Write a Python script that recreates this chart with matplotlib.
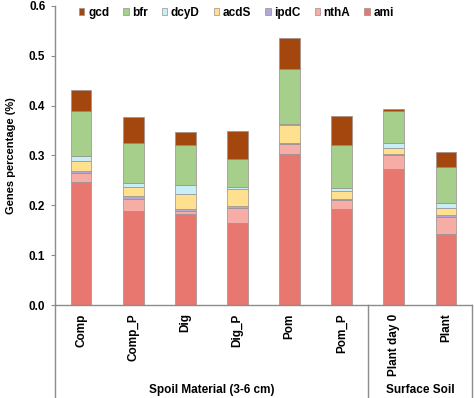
import matplotlib
matplotlib.use("Agg")
import matplotlib.pyplot as plt
import numpy as np

plt.rcParams["font.family"] = ["Liberation Sans", "DejaVu Sans"]

# samples and stacked gene fractions (bottom to top)
samples = ["Comp", "Comp_P", "Dig", "Dig_P", "Pom", "Pom_P", "Plant day 0", "Plant"]
ami  = [0.247, 0.188, 0.183, 0.165, 0.303, 0.192, 0.273, 0.142]
nthA = [0.017, 0.024, 0.006, 0.029, 0.021, 0.018, 0.029, 0.035]
ipdC = [0.004, 0.007, 0.003, 0.004, 0.002, 0.003, 0.002, 0.004]
acdS = [0.021, 0.018, 0.031, 0.034, 0.035, 0.015, 0.012, 0.013]
dcyD = [0.009, 0.007, 0.017, 0.004, 0.002, 0.007, 0.009, 0.010]
bfr  = [0.092, 0.081, 0.082, 0.056, 0.110, 0.087, 0.065, 0.072]
gcd  = [0.042, 0.053, 0.025, 0.058, 0.062, 0.058, 0.003, 0.032]

genes = ["ami", "nthA", "ipdC", "acdS", "dcyD", "bfr", "gcd"]
values = [ami, nthA, ipdC, acdS, dcyD, bfr, gcd]
colors = ["#E8786F", "#F5ADA6", "#B3A6D8", "#FEE08E", "#C8EEF8", "#A6CF8B", "#A3470F"]

groups = ["Spoil Material (3-6 cm)", "Surface Soil"]
group_bounds = [(-0.5, 5.5), (5.5, 7.5)]

font_size = 8.5
line_color = "#8c8c8c"

fig = plt.figure(figsize=(4.74, 3.98), dpi=100)
ax = fig.add_axes([55 / 474, 1 - 305 / 398, 417 / 474, 299 / 398])

x = np.arange(len(samples))
bottom = np.zeros(len(samples))
handles = []
for name, vals, c in zip(genes, values, colors):
    b = ax.bar(x, vals, width=0.4, bottom=bottom, color=c, edgecolor="#9a8f8f",
               linewidth=0.5, label=name)
    handles.append(b)
    bottom += np.array(vals)

ax.set_xlim(-0.5, 7.5)
ax.set_ylim(0, 0.6)
ax.set_yticks(np.arange(0, 0.61, 0.1))
ax.set_yticklabels(["%.1f" % v for v in np.arange(0, 0.61, 0.1)],
                   fontsize=font_size, fontweight="bold")
ax.set_ylabel("Genes percentage (%)", fontsize=8, fontweight="bold", labelpad=9)
ax.tick_params(axis="y", length=3, color=line_color, width=0.8, pad=4)
ax.tick_params(axis="x", length=0, pad=6)
ax.set_xticks(x)
ax.set_xticklabels(samples, rotation=90, fontsize=font_size, fontweight="bold", va="top")

for s in ["top", "right"]:
    ax.spines[s].set_visible(False)
for s in ["left", "bottom"]:
    ax.spines[s].set_color(line_color)
    ax.spines[s].set_linewidth(1.0)

# group separators below the axis
trans = ax.get_xaxis_transform()
for xb in [-0.5, 5.5, 7.5]:
    ax.plot([xb, xb], [0, -0.32], transform=trans, color=line_color, lw=1.0, clip_on=False)
for g, (a, b) in zip(groups, group_bounds):
    ax.text((a + b) / 2, -0.285, g, transform=trans, ha="center", va="center",
            fontsize=font_size, fontweight="bold")

ax.legend(handles[::-1], genes[::-1], ncol=7, loc="center", bbox_to_anchor=(0.435, 0.977),
          frameon=False, prop={"weight": "bold", "size": font_size},
          handlelength=0.45, handleheight=0.45, handletextpad=0.3, columnspacing=1.2,
          borderaxespad=0, borderpad=0)

fig.savefig("out.png", dpi=100)
